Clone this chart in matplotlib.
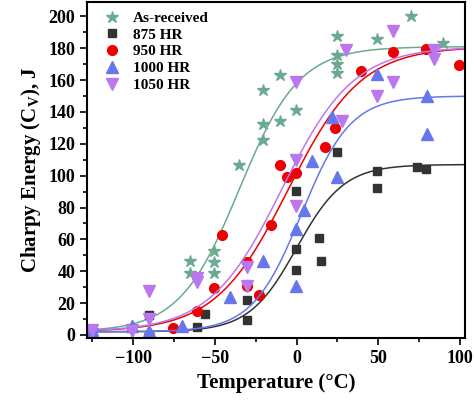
import numpy as np
import matplotlib.pyplot as plt
from matplotlib.ticker import MultipleLocator

plt.rcParams['font.family'] = ['Liberation Serif', 'DejaVu Serif']
plt.rcParams['font.weight'] = 'bold'

# measured points (temperature C, energy J)
asr_t = [-125, -100.7, -65.4, -65.4, -50.7, -50.7, -50.7, -35.4, -20.4, -20.4, -20.4,
         -10.4, -10.4, -0.6, 24.9, 24.9, 24.9, 24.9, 49.4, 69.9, 89.3]
asr_e = [3, 5.7, 46.7, 39, 53, 46, 39, 107, 153.5, 132.5, 122.6,
         163.4, 134.6, 141, 187.6, 176, 170, 164.5, 185.5, 200, 183.4]
hr875_t = [-125, -90.5, -61, -55.8, -30.2, -30.2, -0.6, -0.6, -0.6, 13.7, 14.7, 24.9, 49.4, 49.4, 73.9, 79]
hr875_e = [2, 12.4, 5, 13, 21.9, 9.3, 90.4, 54, 41, 60.8, 46.7, 115, 103, 92, 105.6, 104]
hr950_t = [-90.5, -75.6, -61, -50.7, -45.5, -30.2, -30.2, -23, -15.5, -10.4, -5.7, -0.6,
           17.4, 23.3, 39.2, 59.2, 79, 99.4]
hr950_e = [0, 4.2, 15, 29.5, 62.5, 45.6, 31, 25, 68.8, 107, 98.9, 101.8,
           118, 130, 165.5, 177.7, 179.6, 169.7]
hr1000_t = [-125, -100.7, -90.5, -70, -40.4, -20.4, -0.6, -0.6, 4.5, 9.6, 21.9, 24.9, 49.4, 79.6, 79.6]
hr1000_e = [3, 5.7, 2.5, 5.7, 24, 46.7, 66.7, 31, 78.7, 109, 136.7, 99.2, 164, 149.7, 126]
hr1050_t = [-125, -100.7, -90.5, -90.5, -61, -61, -30.2, -30.2, -0.6, -0.6, -0.6,
            28, 30.1, 49.4, 59.2, 59.2, 84, 84]
hr1050_e = [3, 2.5, 27.6, 10, 36, 33, 42.5, 31, 159, 110, 81,
            134.6, 179, 150, 191, 158.6, 179, 173]

# tanh fit parameters: lower shelf, upper shelf, T0, C
fits = {
    'As-received': (2, 181, -35, 36.6),
    '875 HR': (2, 107, 0, 29),
    '950 HR': (2, 181, -5, 44.6),
    '1000 HR': (2, 150, 3, 30),
    '1050 HR': (2, 181, -9, 44),
}

series = [
    ('As-received', asr_t, asr_e, '*', '#6aaa90', 9),
    ('875 HR', hr875_t, hr875_e, 's', '#333333', 6),
    ('950 HR', hr950_t, hr950_e, 'o', '#ee0000', 7),
    ('1000 HR', hr1000_t, hr1000_e, '^', '#6677ee', 8),
    ('1050 HR', hr1050_t, hr1050_e, 'v', '#bb77ee', 8),
]

fig = plt.figure(figsize=(4.74, 4.04), dpi=100)
ax = fig.add_axes([0.184, 0.163, 0.797, 0.832])

tt = np.linspace(-128, 103, 300)
for name, t, e, mk, col, ms in series:
    lo, up, t0, c = fits[name]
    ax.plot(tt, lo + (up - lo) / 2 * (1 + np.tanh((tt - t0) / c)), color=col, lw=1.1)
    ax.plot(t, e, mk, color=col, ms=ms, ls='none', label=name)

ax.set_xlim(-128, 103)
ax.set_ylim(-2, 209)
ax.xaxis.set_major_locator(MultipleLocator(50))
ax.xaxis.set_minor_locator(MultipleLocator(25))
ax.yaxis.set_major_locator(MultipleLocator(20))
ax.yaxis.set_minor_locator(MultipleLocator(10))
ax.tick_params(which='both', direction='out', labelsize=13, width=1.2)
ax.tick_params(which='major', length=5)
ax.tick_params(which='minor', length=3)
for s in ax.spines.values():
    s.set_linewidth(1.5)
ax.set_xlabel('Temperature (\u00b0C)', fontsize=15, fontweight='bold')
ax.set_ylabel('Charpy Energy (C$_\\mathregular{V}$), J', fontsize=15, fontweight='bold')
ax.legend(loc='upper left', frameon=False, fontsize=11, handletextpad=0.4,
          labelspacing=0.2, borderaxespad=0.2)

fig.savefig('out.png')
